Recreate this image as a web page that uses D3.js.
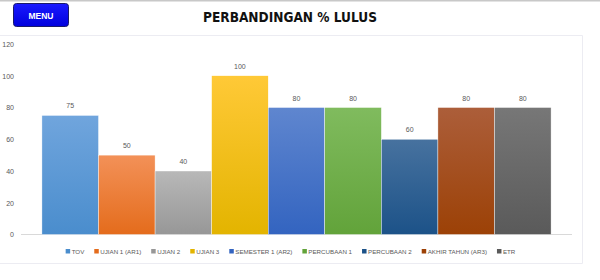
<!DOCTYPE html>
<html><head><meta charset="utf-8">
<script src="https://cdn.jsdelivr.net/npm/d3@7"></script>
<style>
html,body{margin:0;padding:0;background:#fff;}
svg{display:block;}
</style></head>
<body>
<svg id="c" width="600" height="280"></svg>
<script>
const categories = ["TOV","UJIAN 1 (AR1)","UJIAN 2","UJIAN 3","SEMESTER 1 (AR2)","PERCUBAAN 1","PERCUBAAN 2","AKHIR TAHUN (AR3)","ETR"];
const values = [75,50,40,100,80,80,60,80,80];
const yTicks = [0,20,40,60,80,100,120];
const topColors = ["#70a5dd","#f39158","#b8b8b8","#ffc937","#5f86cf","#80bb5e","#47729f","#ac5e3a","#777777"];
const bottomColors = ["#4a8dcd","#e46c1c","#979797","#e3b400","#3364c0","#62a33a","#1c5288","#9c4106","#5a5a5a"];
const title = "PERBANDINGAN % LULUS";

const svg = d3.select("#c");
const font = "'Liberation Sans', Arial, sans-serif";

svg.append("rect").attr("x",0).attr("y",0).attr("width",600).attr("height",1.5).attr("fill","#c8c8c8");
svg.append("path").attr("d","M0,35.5H582.5V263.5H0").attr("fill","none").attr("stroke","#ececf2").attr("stroke-width",1);

const defs = svg.append("defs");
const bg = defs.append("linearGradient").attr("id","btn").attr("x1",0).attr("y1",0).attr("x2",0).attr("y2",1);
bg.append("stop").attr("offset","0").attr("stop-color","#1a1aff");
bg.append("stop").attr("offset","1").attr("stop-color","#0000dd");
svg.append("rect").attr("x",13.5).attr("y",3.5).attr("width",55).attr("height",23).attr("rx",3)
  .attr("fill","url(#btn)").attr("stroke","#1a1a6a").attr("stroke-width",1);
svg.append("text").attr("x",41).attr("y",18.5).attr("text-anchor","middle")
  .attr("font-family",font).attr("font-weight","bold").attr("font-size",8.5).attr("fill","#fff").text("MENU");

svg.append("text").attr("x",290).attr("y",22).attr("text-anchor","middle")
  .attr("font-family","'DejaVu Sans', sans-serif").attr("font-weight","bold").attr("font-size",14)
  .attr("fill","#111").attr("textLength",174).attr("lengthAdjust","spacingAndGlyphs").text(title);

const x = d3.scaleBand().domain(categories).range([21,572]).paddingInner(0).paddingOuter(0.37);
const y = d3.scaleLinear().domain([0,120]).range([234.5,44]);

categories.forEach((c,i)=>{
  const g = defs.append("linearGradient").attr("id","g"+i).attr("x1",0).attr("y1",0).attr("x2",0).attr("y2",1);
  g.append("stop").attr("offset","0").attr("stop-color",topColors[i]);
  g.append("stop").attr("offset","1").attr("stop-color",bottomColors[i]);
});

const ya = svg.append("g").attr("transform","translate(14,0)")
  .call(d3.axisLeft(y).tickValues(yTicks).tickSize(0).tickPadding(0));
ya.select(".domain").remove();
ya.selectAll("text").attr("font-family",font).attr("font-size",7).attr("fill","#595959");

svg.append("line").attr("x1",21).attr("x2",572).attr("y1",234.5).attr("y2",234.5).attr("stroke","#d9d9d9").attr("stroke-width",1);

svg.append("g").selectAll("rect").data(values).join("rect")
  .attr("x",(d,i)=>x(categories[i]))
  .attr("y",d=>y(d))
  .attr("width",x.bandwidth())
  .attr("height",d=>y(0)-y(d))
  .attr("fill",(d,i)=>"url(#g"+i+")")
  .attr("stroke","#ffffff").attr("stroke-width",0.4);

svg.append("g").selectAll("text").data(values).join("text")
  .attr("x",(d,i)=>x(categories[i])+x.bandwidth()/2)
  .attr("y",d=>y(d)-7)
  .attr("text-anchor","middle").attr("font-family",font).attr("font-size",7).attr("fill","#595959")
  .text(d=>d);

const lg = svg.append("g");
const items = lg.selectAll("g").data(categories).join("g");
items.append("rect").attr("width",4.5).attr("height",4.5).attr("y",-4.5).attr("fill",(d,i)=>bottomColors[i]);
items.append("text").attr("x",6).attr("y",0).attr("font-family",font).attr("font-size",6.2).attr("fill","#595959").text(d=>d);
let cx = 0; const pos = [];
items.each(function(d,i){
  const w = d3.select(this).select("text").node().getComputedTextLength();
  pos.push(cx); cx += 6 + w + 10;
});
const total = cx - 10;
const start = 290.5 - total/2;
items.attr("transform",(d,i)=>`translate(${start+pos[i]},253.5)`);
</script>
</body></html>
